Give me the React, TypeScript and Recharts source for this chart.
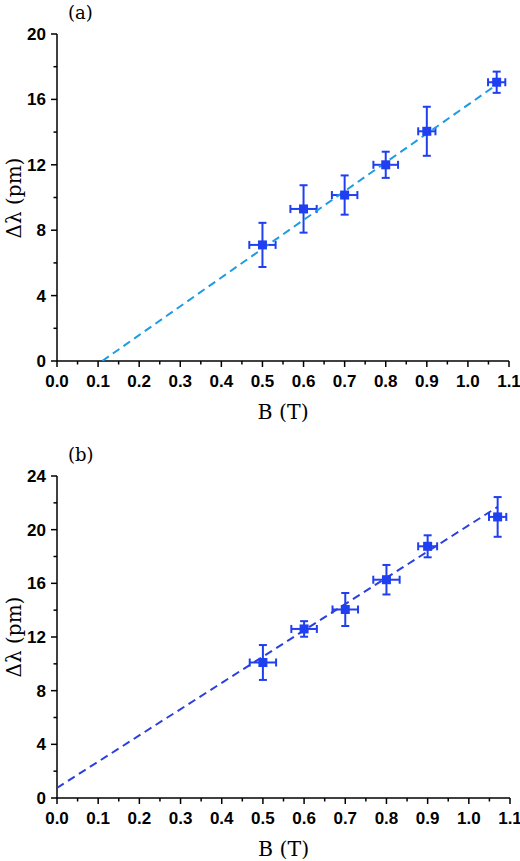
import React from 'react';
import { ScatterChart, Scatter, XAxis, YAxis, ErrorBar } from 'recharts';

// panel (a)
const bA = [0.5, 0.6, 0.7, 0.8, 0.9, 1.07];
const dlA = [7.1, 9.3, 10.15, 12.0, 14.05, 17.05];
const dlErrA = [1.35, 1.45, 1.2, 0.8, 1.5, 0.65];
const bErrA = [0.032, 0.032, 0.031, 0.03, 0.021, 0.021];
const fitA = [
  { x: 0.11, y: 0 },
  { x: 1.07, y: 16.9 },
];

// panel (b)
const bB = [0.5, 0.6, 0.7, 0.8, 0.9, 1.07];
const dlB = [10.1, 12.6, 14.05, 16.27, 18.76, 20.95];
const dlErrB = [1.3, 0.58, 1.23, 1.1, 0.82, 1.48];
const bErrB = [0.032, 0.031, 0.031, 0.032, 0.023, 0.021];
const fitB = [
  { x: 0, y: 0.75 },
  { x: 1.07, y: 21.7 },
];

const xTicks = [0, 0.05, 0.1, 0.15, 0.2, 0.25, 0.3, 0.35, 0.4, 0.45, 0.5, 0.55, 0.6, 0.65, 0.7, 0.75, 0.8, 0.85, 0.9, 0.95, 1.0, 1.05, 1.1];
const yTicksA = [0, 2, 4, 6, 8, 10, 12, 14, 16, 18, 20];
const yTicksB = [0, 2, 4, 6, 8, 10, 12, 14, 16, 18, 20, 22, 24];

const MARK = '#1f3ff0';
const TICK_FONT = '"Liberation Sans", Arial, sans-serif';
const SERIF = '"DejaVu Serif", "Liberation Serif", serif';

const isMajorX = (v: number) => Math.abs(v * 10 - Math.round(v * 10)) < 1e-6;

const XTick = (props: any) => {
  const { x, y, payload } = props;
  const major = isMajorX(payload.value);
  return (
    <g>
      <line x1={x} x2={x} y1={y} y2={y + (major ? 6 : 3.5)} stroke="#000" strokeWidth={1.5} />
      {major && (
        <text x={x} y={y + 26} textAnchor="middle" fontFamily={TICK_FONT} fontSize={17} fontWeight="bold" fill="#000">
          {payload.value.toFixed(1)}
        </text>
      )}
    </g>
  );
};

const YTick = (props: any) => {
  const { x, y, payload } = props;
  const major = payload.value % 4 === 0;
  return (
    <g>
      <line x1={x} x2={x - (major ? 6 : 3.5)} y1={y} y2={y} stroke="#000" strokeWidth={1.5} />
      {major && (
        <text x={x - 11} y={y + 6} textAnchor="end" fontFamily={TICK_FONT} fontSize={17} fontWeight="bold" fill="#000">
          {payload.value}
        </text>
      )}
    </g>
  );
};

const SquareMark = (props: any) => {
  const { cx, cy } = props;
  return <rect x={cx - 4.5} y={cy - 4.5} width={9} height={9} fill={MARK} />;
};

const NoMark = () => null;

const toPoints = (bs: number[], ds: number[], dErr: number[], bErr: number[]) =>
  bs.map((b, i) => ({ x: b, y: ds[i], ex: bErr[i], ey: dErr[i] }));

interface PanelProps {
  label: string;
  points: { x: number; y: number; ex: number; ey: number }[];
  fit: { x: number; y: number }[];
  fitColor: string;
  yMax: number;
  yTicks: number[];
  height: number;
  top: number;
  xAxisHeight: number;
  right: number;
}

const Panel: React.FC<PanelProps> = ({ label, points, fit, fitColor, yMax, yTicks, height, top, xAxisHeight, right }) => {
  const plotTop = top;
  const plotBottom = height - xAxisHeight;
  const midY = (plotTop + plotBottom) / 2;
  const midX = (57 + 520 - right) / 2;
  return (
    <div style={{ position: 'relative', width: 520, height }}>
      <ScatterChart width={520} height={height} margin={{ top, right, left: 0, bottom: 0 }}>
        <XAxis
          type="number"
          dataKey="x"
          domain={[0, 1.1]}
          ticks={xTicks}
          interval={0}
          tickSize={0}
          tickMargin={0}
          tickLine={false}
          tick={<XTick />}
          height={xAxisHeight}
          axisLine={{ stroke: '#000', strokeWidth: 1.5 }}
          allowDataOverflow
        />
        <YAxis
          type="number"
          dataKey="y"
          domain={[0, yMax]}
          ticks={yTicks}
          interval={0}
          tickSize={0}
          tickMargin={0}
          tickLine={false}
          tick={<YTick />}
          width={57}
          axisLine={{ stroke: '#000', strokeWidth: 1.5 }}
          allowDataOverflow
        />
        <Scatter
          data={fit}
          line={{ stroke: fitColor, strokeWidth: 2, strokeDasharray: '8 5' }}
          shape={<NoMark />}
          isAnimationActive={false}
        />
        <Scatter data={points} fill={MARK} shape={<SquareMark />} isAnimationActive={false}>
          <ErrorBar dataKey="ey" direction="y" width={4} stroke={MARK} strokeWidth={2} isAnimationActive={false} />
          <ErrorBar dataKey="ex" direction="x" width={4} stroke={MARK} strokeWidth={2} isAnimationActive={false} />
        </Scatter>
      </ScatterChart>
      <div style={{ position: 'absolute', left: 68, top: top - 32, fontFamily: SERIF, fontSize: 18 }}>{label}</div>
      <div
        style={{
          position: 'absolute',
          left: 14,
          top: midY,
          transform: 'translate(-50%, -50%) rotate(-90deg)',
          fontFamily: SERIF,
          fontSize: 20,
          whiteSpace: 'nowrap',
        }}
      >
        Δλ (pm)
      </div>
      <div
        style={{
          position: 'absolute',
          left: midX,
          top: plotBottom + 51,
          transform: 'translate(-50%, -50%)',
          fontFamily: SERIF,
          fontSize: 20.5,
          whiteSpace: 'nowrap',
        }}
      >
        B (T)
      </div>
    </div>
  );
};

export default function App() {
  return (
    <div style={{ position: 'absolute', left: 0, top: 0, width: 520, height: 861, background: '#fff' }}>
      <Panel
        label="(a)"
        points={toPoints(bA, dlA, dlErrA, bErrA)}
        fit={fitA}
        fitColor="#1f9be3"
        yMax={20}
        yTicks={yTicksA}
        height={420}
        top={34}
        xAxisHeight={59}
        right={11}
      />
      <Panel
        label="(b)"
        points={toPoints(bB, dlB, dlErrB, bErrB)}
        fit={fitB}
        fitColor="#2a3fe0"
        yMax={24}
        yTicks={yTicksB}
        height={441}
        top={56}
        xAxisHeight={63}
        right={10}
      />
    </div>
  );
}
